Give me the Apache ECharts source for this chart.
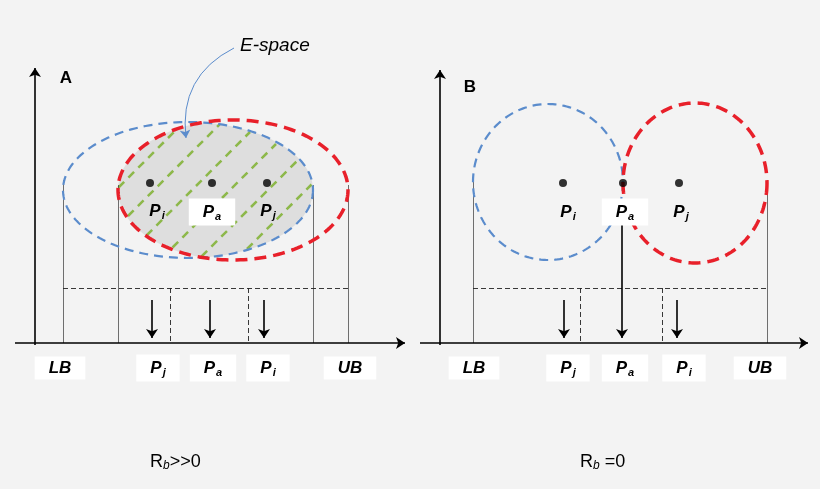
<!DOCTYPE html>
<html><head><meta charset="utf-8">
<script src="https://cdn.jsdelivr.net/npm/echarts@6/dist/echarts.min.js"></script>
<style>html,body{margin:0;background:#f3f3f3}#c{width:820px;height:489px}</style>
</head><body><div id="c"></div>
<script>
// diagram space: x 0..820, y 0..489 (y down)
var ellipses = [ // cx, cy, rx, ry, color, width
  [188, 190, 125, 68, '#5b8ccc', 2.2],
  [233, 190, 115, 70, '#e8202a', 3.5],
  [548, 182, 75, 78, '#5b8ccc', 2.2],
  [695, 183, 72, 80, '#e8202a', 3.5]
];
var arrowLines = [ // axes and small arrows
  [[35, 345], [35, 68]], [[15, 343], [405, 343]],
  [[440, 345], [440, 70]], [[420, 343], [808, 343]],
  [[152, 300], [152, 338]], [[210, 300], [210, 338]], [[264, 300], [264, 338]],
  [[564, 300], [564, 338]], [[622, 215], [622, 338]], [[677, 300], [677, 338]]
];
var thinLines = [
  [[63, 180], [63, 343]], [[118, 185], [118, 343]], [[313, 185], [313, 343]], [[348, 185], [348, 343]],
  [[473, 180], [473, 343]], [[767, 180], [767, 343]]
];
var dashLines = [
  [[63, 288], [348, 288]], [[170, 288], [170, 343]], [[248, 288], [248, 343]],
  [[473, 288], [767, 288]], [[580, 288], [580, 343]], [[662, 288], [662, 343]]
];
var dots = [[150, 183], [212, 183], [267, 183], [563, 183], [623, 183], [679, 183]];
var labels = [ // x, y, main, sub, boxed
  [157, 211, 'P', 'i', false], [212, 212, 'P', 'a', true], [268, 211, 'P', 'j', false],
  [60, 368, 'LB', '', true], [158, 368, 'P', 'j', true], [213, 368, 'P', 'a', true],
  [268, 368, 'P', 'i', true], [350, 368, 'UB', '', true],
  [568, 212, 'P', 'i', false], [625, 212, 'P', 'a', true], [681, 212, 'P', 'j', false],
  [474, 368, 'LB', '', true], [568, 368, 'P', 'j', true], [625, 368, 'P', 'a', true],
  [684, 368, 'P', 'i', true], [760, 368, 'UB', '', true]
];
var plainTexts = [ // x, y, text
  [66, 78, 'A'], [470, 87, 'B']
];

function ePts(e, n) {
  var p = [];
  for (var k = 0; k < n; k++) { var t = k / n * 2 * Math.PI; p.push([e[0] + e[2] * Math.cos(t), e[1] + e[3] * Math.sin(t)]); }
  return p;
}
function inside(e, p) { var dx = (p[0] - e[0]) / e[2], dy = (p[1] - e[1]) / e[3]; return dx * dx + dy * dy <= 1; }

var chart = echarts.init(document.getElementById('c'));
var seg = function (arr) { return arr.map(function (l) { return { coords: l }; }); };

chart.setOption({
  backgroundColor: '#f3f3f3',
  animation: false,
  grid: { left: 0, right: 0, top: 0, bottom: 0 },
  xAxis: { type: 'value', min: 0, max: 820, show: false },
  yAxis: { type: 'value', min: 0, max: 489, inverse: true, show: false },
  series: [
    { // intersection shading + green hatch
      type: 'custom', data: [0], silent: true, z: 1,
      renderItem: function (params, api) {
        var a = ellipses[0], b = ellipses[1];
        var poly = ePts(a, 240).filter(function (p) { return inside(b, p); })
          .concat(ePts(b, 240).filter(function (p) { return inside(a, p); }));
        var c = [(a[0] + b[0]) / 2, a[1]];
        poly.sort(function (p, q) { return Math.atan2(p[1] - c[1], p[0] - c[0]) - Math.atan2(q[1] - c[1], q[0] - c[0]); });
        var kids = [{ type: 'polygon', shape: { points: poly.map(function (p) { return api.coord(p); }) }, style: { fill: '#dedede' } }];
        for (var s = -40; s < 480; s += 38) {
          var inPts = [];
          for (var u = 0; u <= 200; u++) {
            var p = [s + u * 1.5, 270 - u * 1.5];
            if (inside(a, p) && inside(b, p)) inPts.push(p);
          }
          if (inPts.length > 1) kids.push({ type: 'line', shape: { x1: api.coord(inPts[0])[0], y1: api.coord(inPts[0])[1], x2: api.coord(inPts[inPts.length - 1])[0], y2: api.coord(inPts[inPts.length - 1])[1] }, style: { stroke: '#8db84a', lineWidth: 2.5, lineDash: [8, 6] } });
        }
        return { type: 'group', children: kids };
      }
    },
    {
      type: 'custom', data: ellipses, silent: true, z: 3,
      renderItem: function (params, api) {
        var e = ellipses[params.dataIndex];
        return { type: 'polygon', shape: { points: ePts(e, 200).map(function (p) { return api.coord(p); }) },
          style: { fill: 'none', stroke: e[4], lineWidth: e[5], lineDash: e[5] > 3 ? [12, 7] : [9, 6] } };
      }
    },
    { type: 'lines', coordinateSystem: 'cartesian2d', z: 4, silent: true, symbol: ['none', 'arrow'], symbolSize: 9,
      lineStyle: { color: '#000', width: 1.6, opacity: 1 }, data: seg(arrowLines) },
    { type: 'lines', coordinateSystem: 'cartesian2d', z: 2, silent: true,
      lineStyle: { color: '#333', width: 0.7, opacity: 1 }, data: seg(thinLines) },
    { type: 'lines', coordinateSystem: 'cartesian2d', z: 2, silent: true,
      lineStyle: { color: '#222', width: 0.9, type: [5, 3], opacity: 1 }, data: seg(dashLines) },
    { type: 'lines', coordinateSystem: 'cartesian2d', z: 4, silent: true, symbol: ['none', 'arrow'], symbolSize: 8,
      lineStyle: { color: '#5b8ccc', width: 1, curveness: -0.35, opacity: 1 }, data: [{ coords: [[234, 48], [186, 138]] }] },
    { type: 'scatter', z: 6, symbolSize: 8, itemStyle: { color: '#000' }, data: dots },
    {
      type: 'custom', data: labels, silent: true, z: 7,
      renderItem: function (params, api) {
        var l = labels[params.dataIndex], pt = api.coord([l[0], l[1]]);
        var txt = l[3] ? '{m|' + l[2] + '}{s|' + l[3] + '}' : '{m|' + l[2] + '}';
        return { type: 'text', x: pt[0], y: pt[1], style: {
          text: txt, align: 'center', verticalAlign: 'middle',
          backgroundColor: l[4] ? '#fff' : 'transparent', padding: [3, 14, 3, 14],
          rich: { m: { fontFamily: 'Liberation Sans', fontSize: 17, fontWeight: 'bold', fontStyle: 'italic', fill: '#000' },
                  s: { fontFamily: 'Liberation Sans', fontSize: 11, fontWeight: 'bold', fontStyle: 'italic', fill: '#000', padding: [10, 0, 0, 1] } } } };
      }
    },
    {
      type: 'custom', data: plainTexts, silent: true, z: 7,
      renderItem: function (params, api) {
        var t = plainTexts[params.dataIndex], pt = api.coord([t[0], t[1]]);
        return { type: 'text', x: pt[0], y: pt[1], style: { text: t[2], align: 'center', verticalAlign: 'middle',
          font: 'bold 17px "Liberation Sans"', fill: '#000' } };
      }
    }
  ],
  graphic: [
    { type: 'text', left: 240, top: 36, style: { text: 'E-space', font: 'italic 19px "Liberation Sans"', fill: '#000' } },
    { type: 'text', left: 150, top: 453, style: { text: '{m|R}{s|b}{m|>>0}', rich: {
      m: { fontFamily: 'Liberation Sans', fontSize: 18, fill: '#000' },
      s: { fontFamily: 'Liberation Sans', fontSize: 12, fontStyle: 'italic', fill: '#000', padding: [8, 0, 0, 0] } } } },
    { type: 'text', left: 580, top: 453, style: { text: '{m|R}{s|b}{m| =0}', rich: {
      m: { fontFamily: 'Liberation Sans', fontSize: 18, fill: '#000' },
      s: { fontFamily: 'Liberation Sans', fontSize: 12, fontStyle: 'italic', fill: '#000', padding: [8, 0, 0, 0] } } } }
  ]
});
</script></body></html>
